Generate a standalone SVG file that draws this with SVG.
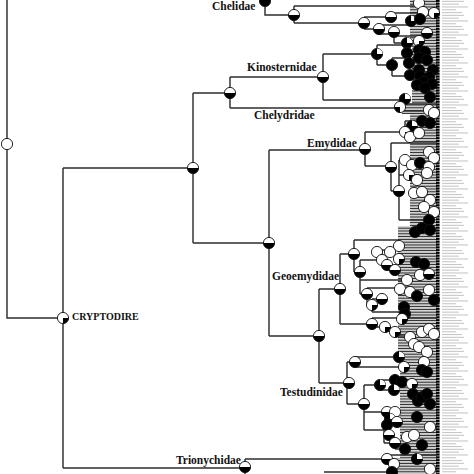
<svg xmlns="http://www.w3.org/2000/svg" xmlns:xlink="http://www.w3.org/1999/xlink" width="474" height="474" viewBox="0 0 474 474">
<style>
.br{fill:none;stroke:#2e2e2e;stroke-width:1.45}
.lb{font-family:"Liberation Serif","Times New Roman",serif;font-weight:bold;font-size:11.5px;fill:#111}
.pc{stroke:#111;stroke-width:0.9}
</style>
<defs>
<pattern id="hp" width="6" height="2.8" patternUnits="userSpaceOnUse"><rect y="0.7" width="6" height="1.35" fill="#262626"/></pattern>
<pattern id="tp" x="436" width="5" height="2.8" patternUnits="userSpaceOnUse"><rect width="3.6" height="2.2" fill="#000"/></pattern>
<pattern id="gp" x="442" width="32" height="14" patternUnits="userSpaceOnUse"><g fill="#c8c8c8"><rect y="0.8" width="22" height="1.1"/><rect y="3.6" width="17" height="1.1"/><rect y="6.4" width="26" height="1.1"/><rect y="9.2" width="14" height="1.1"/><rect y="12" width="20" height="1.1"/></g></pattern>
<g id="w"><circle r="5.6" fill="#fff" class="pc"/></g>
<g id="k"><circle r="5.6" fill="#000" class="pc"/></g>
<g id="h"><circle r="5.6" fill="#fff" class="pc"/><path d="M-5.6,0A5.6,5.6 0 0 0 5.6,0Z"/></g>
<g id="q"><circle r="5.6" fill="#fff" class="pc"/><path d="M0,0H5.6A5.6,5.6 0 0 1 0,5.6Z"/></g>
<g id="m"><circle r="5.6" fill="#fff" class="pc"/><path d="M0,0V5.6A5.6,5.6 0 0 1 -5.6,0Z"/></g>
<g id="t"><circle r="5.6" fill="#000" class="pc"/><path d="M0,0V-5.6A5.6,5.6 0 0 1 5.6,0Z" fill="#fff"/></g>
<g id="l"><circle r="5.6" fill="#fff" class="pc"/><path d="M0,-5.6A5.6,5.6 0 0 0 0,5.6Z"/></g>
</defs>
<rect width="474" height="474" fill="#fff"/>
<g id="tips">
<rect x="410" y="0" width="27" height="40" fill="url(#hp)"/>
<rect x="412" y="40" width="25" height="64" fill="url(#hp)"/>
<rect x="402" y="104" width="35" height="10" fill="url(#hp)"/>
<rect x="410" y="114" width="27" height="112" fill="url(#hp)"/>
<rect x="398" y="226" width="39" height="130" fill="url(#hp)"/>
<rect x="400" y="356" width="37" height="102" fill="url(#hp)"/>
<rect x="392" y="458" width="45" height="16" fill="url(#hp)"/>
<rect x="436" y="0" width="4" height="474" fill="url(#tp)"/>
<rect x="442" y="0" width="32" height="474" fill="url(#gp)"/>
</g>
<g id="connectors" class="br">
<path d="M7,0V318H63M63,168V468M63,168H193M63,468H245M193,93V243M193,93H230M230,77V108M230,77H323M230,108H400M193,243H269M269,150V336M269,150H365M269,336H319M319,289V383M319,289H340M319,383H349"/>
<path d="M265,0V15H294M294,6V23M294,6H419M294,23H364M364,17V29M364,17H391M364,29H379M379,25V34M379,25H411M379,34H394M391,13V21M391,13H423M394,30V43M394,36H427M394,43H407"/>
<path d="M323,54V100M323,54H377M323,100H405M377,45V65M377,45H407M377,65H392M392,58V76M392,58H409M392,76H410M405,96V104"/>
<path d="M400,104V111M400,104H437M400,111H429"/>
<path d="M365,132V166M365,132H405M365,166H391M405,121V137M405,121H422M405,137H410M391,143V191M391,143H437M391,191H399M399,160V220M399,160H405M399,175H409M399,220H429M405,155V165M409,170V180"/>
<path d="M340,254V324M340,254H354M340,324H372M354,240V272M354,240H399M354,272H360M360,260V294M360,260H382M360,280H407M360,294H367M367,288V305M367,288H400M367,305H372M372,299V312M372,299H382M372,312H404M372,318V327M372,318H437M372,327H385M385,324V331M385,331H395M395,329V336M395,336H410M410,333V347M410,347H419M382,250V262M382,250H390"/>
<path d="M347,362V404M347,362H355M347,404H364M355,357V367M355,357H399M355,367H404M364,385V430M364,385H380M364,430H384M380,380V390M380,380H395M380,390H394M364,412H387M387,412V422M387,422H397M384,425V443M384,425H387M384,435H389M384,443H395M395,443V449M395,449H405"/>
<path d="M245,459V474M245,459H387M387,455V464M387,455H437M387,464H394M324,472H392"/>
</g>
<g id="nodes">
<use href="#w" x="7" y="144"/>
<use href="#q" x="63" y="318"/>
<use href="#h" x="193" y="168"/>
<use href="#h" x="230" y="93"/>
<use href="#h" x="269" y="243"/>
<use href="#h" x="319" y="336"/>
<use href="#h" x="245" y="467"/>
<use href="#k" x="265" y="1"/>
<use href="#h" x="294" y="15"/>
<use href="#w" x="419" y="3"/>
<use href="#w" x="423" y="12"/>
<use href="#q" x="434" y="13"/>
<use href="#h" x="391" y="17"/>
<use href="#t" x="411" y="21"/>
<use href="#k" x="420" y="19"/>
<use href="#h" x="364" y="23"/>
<use href="#h" x="379" y="29"/>
<use href="#h" x="394" y="32"/>
<use href="#h" x="427" y="33"/>
<use href="#t" x="407" y="43"/>
<use href="#q" x="419" y="41"/>
<use href="#h" x="323" y="77"/>
<use href="#t" x="377" y="54"/>
<use href="#k" x="407" y="53"/>
<use href="#k" x="419" y="50"/>
<use href="#k" x="425" y="52"/>
<use href="#k" x="392" y="65"/>
<use href="#k" x="409" y="63"/>
<use href="#k" x="419" y="58"/>
<use href="#k" x="427" y="60"/>
<use href="#k" x="410" y="75"/>
<use href="#k" x="419" y="70"/>
<use href="#k" x="433" y="70"/>
<use href="#k" x="420" y="76"/>
<use href="#k" x="429" y="77"/>
<use href="#k" x="424" y="82"/>
<use href="#k" x="432" y="84"/>
<use href="#k" x="417" y="85"/>
<use href="#k" x="425" y="88"/>
<use href="#k" x="430" y="97"/>
<use href="#t" x="405" y="99"/>
<use href="#m" x="400" y="107"/>
<use href="#w" x="429" y="110"/>
<use href="#w" x="434" y="113"/>
<use href="#k" x="422" y="121"/>
<use href="#k" x="430" y="123"/>
<use href="#t" x="412" y="126"/>
<use href="#q" x="405" y="132"/>
<use href="#w" x="410" y="137"/>
<use href="#w" x="419" y="133"/>
<use href="#h" x="365" y="149"/>
<use href="#h" x="391" y="167"/>
<use href="#h" x="399" y="191"/>
<use href="#w" x="405" y="160"/>
<use href="#w" x="412" y="165"/>
<use href="#k" x="420" y="163"/>
<use href="#w" x="429" y="152"/>
<use href="#w" x="434" y="158"/>
<use href="#w" x="429" y="167"/>
<use href="#q" x="409" y="175"/>
<use href="#w" x="417" y="180"/>
<use href="#w" x="427" y="173"/>
<use href="#w" x="414" y="193"/>
<use href="#w" x="422" y="192"/>
<use href="#w" x="430" y="200"/>
<use href="#w" x="424" y="207"/>
<use href="#w" x="434" y="212"/>
<use href="#k" x="429" y="220"/>
<use href="#k" x="415" y="232"/>
<use href="#k" x="422" y="228"/>
<use href="#k" x="430" y="230"/>
<use href="#h" x="354" y="254"/>
<use href="#w" x="399" y="246"/>
<use href="#w" x="377" y="252"/>
<use href="#w" x="390" y="252"/>
<use href="#w" x="382" y="260"/>
<use href="#q" x="399" y="259"/>
<use href="#h" x="387" y="265"/>
<use href="#k" x="416" y="262"/>
<use href="#k" x="424" y="264"/>
<use href="#h" x="395" y="270"/>
<use href="#h" x="360" y="272"/>
<use href="#w" x="420" y="275"/>
<use href="#h" x="429" y="274"/>
<use href="#w" x="407" y="280"/>
<use href="#h" x="340" y="289"/>
<use href="#h" x="367" y="294"/>
<use href="#h" x="382" y="299"/>
<use href="#w" x="400" y="289"/>
<use href="#w" x="410" y="292"/>
<use href="#k" x="417" y="296"/>
<use href="#w" x="429" y="290"/>
<use href="#k" x="434" y="300"/>
<use href="#q" x="372" y="305"/>
<use href="#k" x="404" y="307"/>
<use href="#k" x="405" y="314"/>
<use href="#q" x="402" y="319"/>
<use href="#h" x="372" y="324"/>
<use href="#q" x="385" y="327"/>
<use href="#q" x="395" y="332"/>
<use href="#w" x="410" y="337"/>
<use href="#w" x="422" y="332"/>
<use href="#w" x="429" y="329"/>
<use href="#w" x="434" y="334"/>
<use href="#w" x="414" y="344"/>
<use href="#w" x="419" y="347"/>
<use href="#w" x="427" y="352"/>
<use href="#h" x="349" y="383"/>
<use href="#h" x="355" y="362"/>
<use href="#t" x="399" y="357"/>
<use href="#q" x="404" y="367"/>
<use href="#w" x="424" y="362"/>
<use href="#k" x="422" y="370"/>
<use href="#k" x="427" y="372"/>
<use href="#h" x="364" y="404"/>
<use href="#t" x="380" y="385"/>
<use href="#k" x="395" y="380"/>
<use href="#k" x="402" y="382"/>
<use href="#t" x="394" y="390"/>
<use href="#q" x="412" y="384"/>
<use href="#k" x="413" y="394"/>
<use href="#k" x="418" y="401"/>
<use href="#k" x="422" y="397"/>
<use href="#k" x="427" y="394"/>
<use href="#k" x="430" y="404"/>
<use href="#h" x="387" y="412"/>
<use href="#w" x="395" y="412"/>
<use href="#t" x="390" y="419"/>
<use href="#h" x="397" y="422"/>
<use href="#k" x="387" y="425"/>
<use href="#k" x="417" y="417"/>
<use href="#w" x="430" y="427"/>
<use href="#h" x="389" y="435"/>
<use href="#w" x="407" y="437"/>
<use href="#w" x="414" y="435"/>
<use href="#h" x="395" y="443"/>
<use href="#k" x="405" y="449"/>
<use href="#k" x="422" y="445"/>
<use href="#h" x="387" y="459"/>
<use href="#t" x="417" y="459"/>
<use href="#w" x="394" y="464"/>
<use href="#w" x="430" y="469"/>
<use href="#k" x="392" y="472"/>
</g>
<g id="labels" class="lb">
<text x="212" y="10">Chelidae</text>
<text x="247" y="71">Kinosternidae</text>
<text x="254" y="119">Chelydridae</text>
<text x="307" y="147">Emydidae</text>
<text x="272" y="280">Geoemydidae</text>
<text x="280" y="396">Testudinidae</text>
<text x="176" y="464">Trionychidae</text>
<text x="72" y="320" style="font-size:10px">CRYPTODIRE</text>
</g>
</svg>
